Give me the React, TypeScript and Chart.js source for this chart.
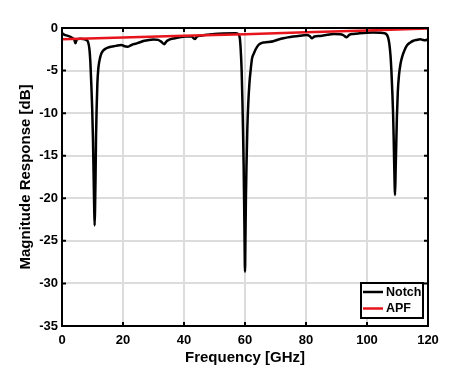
import React, { useEffect, useRef } from 'react';
import { Chart, registerables } from 'chart.js';

Chart.register(...registerables);

// ---- Data ----
const notchFreq = [
  0, 0.8, 1.8, 2.6, 3.5, 4.0, 4.4, 4.9, 6.0, 7.0, 8.0, 8.6, 9.0, 9.3, 9.6, 9.9, 10.15, 10.35, 10.55, 10.7,
  10.85, 11.0, 11.15, 11.35, 11.6, 11.9, 12.3, 12.8, 13.4, 14.2, 15.0, 16.0, 17.0, 18.2, 19.5, 20.5, 21.5,
  22.5, 23.5, 24.5, 25.8, 27.0, 28.5, 30.0, 31.5, 32.5, 33.5, 34.2, 35.0, 37.0, 39.0, 40.5, 42.5, 43.5,
  44.3, 45.5, 48.0, 50.0, 53.0, 56.8, 57.8, 58.3, 58.6, 58.9, 59.15, 59.35, 59.55, 59.7, 59.85,
  60.0, 60.15, 60.3, 60.5, 60.75, 61.05, 61.45, 61.9, 62.3, 62.9, 63.5, 64.4, 65.2, 66.0, 67.5, 69.3, 71.0,
  72.6, 74.0, 75.8, 78.0, 80.2, 81.2, 81.9, 82.8, 84.6, 87.0, 89.0, 91.2, 92.3, 93.3, 94.2, 95.5, 97.5,
  99.9, 102.0, 104.3, 105.5, 106.4, 106.9, 107.3, 107.7, 108.0, 108.3, 108.55, 108.75, 108.95, 109.2,
  109.4, 109.6, 109.8, 110.1, 110.5, 111.0, 111.6, 112.3, 113.2, 114.2, 115.2, 116.3, 117.5, 118.3, 119.0,
  120.0,
];
const notchDb = [
  -0.6, -0.8, -0.9, -1.0, -1.2, -1.35, -1.8, -1.3, -1.25, -1.3, -1.4, -1.7, -2.5, -4.0, -6.5, -9.5, -13, -17, -21, -23.2,
  -21, -17.5, -13, -9.5, -6.5, -4.8, -3.8, -3.1, -2.7, -2.45, -2.3, -2.2, -2.15, -2.05, -2.0, -2.15, -2.2,
  -2.05, -1.9, -1.8, -1.65, -1.5, -1.4, -1.35, -1.4, -1.6, -1.9, -1.6, -1.4, -1.2, -1.05, -1.0, -1.0, -1.3,
  -1.0, -0.9, -0.78, -0.7, -0.65, -0.63, -0.7, -1.2, -2.6, -5.0, -8.5, -12, -16, -20, -24.5,
  -28.6, -24.5, -20, -16, -12, -9, -6.5, -4.8, -3.6, -3.0, -2.5, -2.0, -1.8, -1.7, -1.65, -1.55, -1.35,
  -1.2, -1.1, -1.0, -0.9, -0.82, -0.95, -1.2, -1.0, -0.94, -0.8, -0.7, -0.72, -0.85, -1.1, -0.8, -0.7, -0.62,
  -0.55, -0.53, -0.55, -0.6, -0.75, -1.1, -1.8, -3.2, -5.0, -7.5, -10, -13, -16.5, -19.6,
  -16.5, -13.5, -10.5, -7.5, -5.5, -4.2, -3.3, -2.6, -2.0, -1.7, -1.5, -1.4, -1.33, -1.4, -1.45,
  -1.3,
];
const apfFreq = [0, 20, 40, 60, 80, 100, 120];
const apfDb = [-1.32, -1.12, -0.92, -0.72, -0.5, -0.28, -0.05];

const xTicks = [0, 20, 40, 60, 80, 100, 120];
const yTicks = [0, -5, -10, -15, -20, -25, -30, -35];
const seriesLabels = ['Notch', 'APF'];
const seriesColors = ['#000000', '#e8141b'];

const FONT = '"Liberation Sans", Arial, Helvetica, sans-serif';

const framePlugin = {
  id: 'frameAndLegend',
  afterDraw(chart: any) {
    const { ctx, chartArea } = chart;
    const { left, right, top, bottom } = chartArea;
    const xs = chart.scales.x;
    const ys = chart.scales.y;
    ctx.save();
    ctx.strokeStyle = '#000';
    ctx.lineWidth = 2;
    ctx.beginPath();
    xTicks.forEach((v) => {
      const px = xs.getPixelForValue(v);
      ctx.moveTo(px, bottom);
      ctx.lineTo(px, bottom - 4);
      ctx.moveTo(px, top);
      ctx.lineTo(px, top + 4);
    });
    yTicks.forEach((v) => {
      const py = ys.getPixelForValue(v);
      ctx.moveTo(left, py);
      ctx.lineTo(left + 4, py);
      ctx.moveTo(right, py);
      ctx.lineTo(right - 4, py);
    });
    ctx.stroke();
    ctx.strokeRect(left, top, right - left, bottom - top);

    // legend
    const lw = 62;
    const lh = 35;
    const lx = right - 67;
    const ly = bottom - 43;
    ctx.fillStyle = '#fff';
    ctx.fillRect(lx, ly, lw, lh);
    ctx.strokeRect(lx, ly, lw, lh);
    ctx.font = `bold 12.5px ${FONT}`;
    ctx.textBaseline = 'middle';
    ctx.textAlign = 'left';
    chart.data.datasets.forEach((ds: any, i: number) => {
      const yy = ly + 9 + i * 16.5;
      ctx.strokeStyle = ds.borderColor;
      ctx.lineWidth = 2.5;
      ctx.beginPath();
      ctx.moveTo(lx + 2, yy);
      ctx.lineTo(lx + 22, yy);
      ctx.stroke();
      ctx.fillStyle = '#000';
      ctx.fillText(ds.label, lx + 25, yy + 0.5);
    });
    ctx.restore();
  },
};

export default function App() {
  const ref = useRef<HTMLCanvasElement | null>(null);

  useEffect(() => {
    if (!ref.current) return;
    const chart = new Chart(ref.current, {
      type: 'line',
      data: {
        datasets: [
          {
            label: seriesLabels[0],
            data: notchFreq.map((f, i) => ({ x: f, y: notchDb[i] })),
            borderColor: seriesColors[0],
            borderWidth: 2.5,
            pointRadius: 0,
            cubicInterpolationMode: 'monotone',
            order: 1,
          },
          {
            label: seriesLabels[1],
            data: apfFreq.map((f, i) => ({ x: f, y: apfDb[i] })),
            borderColor: seriesColors[1],
            borderWidth: 2.5,
            pointRadius: 0,
            order: 0,
          },
        ],
      },
      options: {
        responsive: false,
        animation: false,
        layout: { padding: { left: 0, right: 46, top: 28, bottom: 0 } },
        plugins: { legend: { display: false }, tooltip: { enabled: false } },
        scales: {
          x: {
            type: 'linear',
            min: 0,
            max: 120,
            afterBuildTicks: (s: any) => {
              s.ticks = xTicks.map((v) => ({ value: v }));
            },
            afterFit: (s: any) => {
              s.height = 42;
            },
            grid: { color: '#dcdcdc', lineWidth: 2, drawTicks: false },
            border: { display: false },
            ticks: {
              color: '#000',
              padding: 7,
              maxRotation: 0,
              font: { family: FONT, size: 13, weight: 'bold' },
            },
            title: {
              display: true,
              text: 'Frequency [GHz]',
              color: '#000',
              font: { family: FONT, size: 15, weight: 'bold' },
              padding: { top: 0, bottom: 1 },
            },
          },
          y: {
            type: 'linear',
            min: -35,
            max: 0,
            afterBuildTicks: (s: any) => {
              s.ticks = yTicks.map((v) => ({ value: v }));
            },
            afterFit: (s: any) => {
              s.width = 62;
            },
            grid: { color: '#dcdcdc', lineWidth: 2, drawTicks: false },
            border: { display: false },
            ticks: {
              color: '#000',
              padding: 4,
              font: { family: FONT, size: 13, weight: 'bold' },
            },
            title: {
              display: true,
              text: 'Magnitude Response [dB]',
              color: '#000',
              font: { family: FONT, size: 15, weight: 'bold' },
              padding: { top: 17, bottom: 0 },
            },
          },
        },
      },
      plugins: [framePlugin],
    } as any);
    return () => chart.destroy();
  }, []);

  return (
    <div style={{ position: 'fixed', left: 0, top: 0, width: 474, height: 368, background: '#fff' }}>
      <canvas ref={ref} width={474} height={368} style={{ display: 'block' }} />
    </div>
  );
}
